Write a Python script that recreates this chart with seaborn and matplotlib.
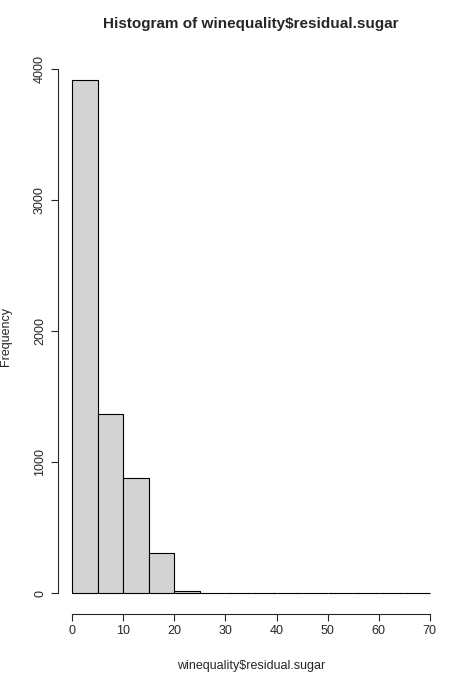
import matplotlib
matplotlib.use("Agg")
import matplotlib.pyplot as plt
import seaborn as sns
import numpy as np

bin_edges = [0, 5, 10, 15, 20, 25, 30, 35, 40, 45, 50, 55, 60, 65, 70]
counts = [3920, 1370, 880, 305, 18, 3, 2, 0, 0, 0, 0, 0, 0, 1]
y_ticks = [0, 1000, 2000, 3000, 4000]
x_ticks = [0, 10, 20, 30, 40, 50, 60, 70]

centers = [(bin_edges[i] + bin_edges[i + 1]) / 2 for i in range(len(counts))]

sns.set_style("white")
plt.rcParams['font.family'] = ['Liberation Sans', 'DejaVu Sans']
fig = plt.figure(figsize=(4.74, 6.86), dpi=100)
ax = fig.add_axes([0.122, 0.1055, 0.815, 0.8085])
sns.histplot(x=centers, weights=counts, bins=bin_edges, ax=ax,
             color="#d3d3d3", edgecolor="black", linewidth=0.8, alpha=1)
ax.set_xlim(-2.8, 72.8)
ax.set_ylim(-157, 4077)
for s in ["top", "right"]:
    ax.spines[s].set_visible(False)
ax.spines["left"].set_bounds(0, 4000)
ax.spines["bottom"].set_bounds(0, 70)
ax.spines["left"].set_linewidth(0.8)
ax.spines["bottom"].set_linewidth(0.8)
ax.set_xticks(x_ticks)
ax.set_yticks(y_ticks)
ax.tick_params(axis="both", length=5, width=0.8, labelsize=9, direction="out",
               bottom=True, left=True)
for lbl in ax.get_yticklabels():
    lbl.set_rotation(90)
    lbl.set_va("center")
ax.set_xlabel("winequality$residual.sugar", fontsize=9, labelpad=16)
ax.set_ylabel("Frequency", fontsize=9, labelpad=16)
ax.set_title("Histogram of winequality$residual.sugar", fontsize=11,
             fontweight="bold", pad=22)
fig.savefig("out.png", dpi=100)
